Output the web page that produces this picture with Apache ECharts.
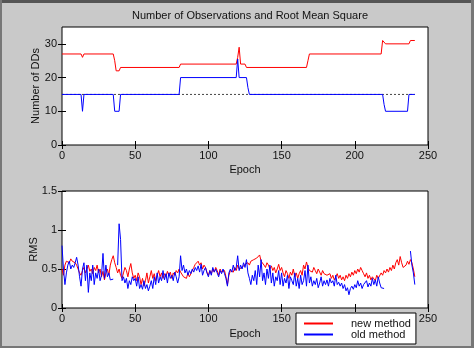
<!DOCTYPE html>
<html><head><meta charset="utf-8">
<script src="https://cdn.jsdelivr.net/npm/echarts@6/dist/echarts.min.js"></script>
<style>html,body{margin:0;padding:0;background:#c9c9c9}#c{width:474px;height:348px}</style>
</head><body><div id="c"></div><script>
// ---- Top panel: number of DDs (polyline vertices: epoch, count) ----
var newDDEpoch = [0,13,14,15,35,36,37,39,40,80,81,119,120,121,122,125,126,167,168,169,218,219,220,221,237,238,241];
var newDD      = [27,27,26,27,27,25,22,22,23,23,24,24,26,29,24,24,23,23,25,27,27,31,30.5,30,30,31,31];
var oldDDEpoch = [0,13,14,15,35,36,39,40,80,81,119,120,121,126,127,128,219,220,221,236,237,241];
var oldDD      = [15,15,10,15,15,10,10,15,15,20,20,25.5,20,20,17,15,15,12,10,10,15,15];
var refEpoch   = [0,241];
var refDD      = [15,15];

// ---- Bottom panel: RMS per epoch (index = epoch) ----
var newRMS = [
0.50,0.42,0.55,0.60,0.62,0.58,0.63,0.60,0.62,0.58,
0.55,0.50,0.45,0.42,0.48,0.52,0.45,0.50,0.55,0.47,
0.50,0.44,0.52,0.48,0.55,0.45,0.50,0.40,0.47,0.36,
0.45,0.50,0.42,0.55,0.62,0.67,0.58,0.52,0.45,0.50,
0.42,0.38,0.45,0.52,0.48,0.40,0.50,0.57,0.45,0.38,
0.42,0.35,0.45,0.40,0.30,0.38,0.28,0.35,0.45,0.32,
0.40,0.48,0.38,0.44,0.35,0.42,0.48,0.40,0.45,0.38,
0.44,0.40,0.47,0.42,0.46,0.38,0.45,0.42,0.48,0.45,
0.50,0.46,0.44,0.40,0.42,0.38,0.45,0.40,0.44,0.48,
0.52,0.56,0.58,0.60,0.55,0.58,0.50,0.55,0.52,0.46,
0.42,0.48,0.44,0.50,0.46,0.52,0.48,0.42,0.50,0.46,
0.44,0.48,0.40,0.30,0.42,0.48,0.50,0.46,0.52,0.48,
0.55,0.50,0.48,0.52,0.50,0.56,0.54,0.58,0.55,0.60,
0.58,0.62,0.60,0.64,0.62,0.68,0.60,0.58,0.55,0.52,
0.58,0.55,0.50,0.54,0.48,0.52,0.45,0.50,0.56,0.48,
0.52,0.45,0.40,0.48,0.44,0.38,0.46,0.42,0.50,0.40,
0.45,0.38,0.44,0.48,0.42,0.55,0.50,0.59,0.52,0.48,
0.50,0.46,0.52,0.48,0.44,0.50,0.46,0.42,0.48,0.44,
0.46,0.42,0.40,0.44,0.38,0.42,0.36,0.40,0.44,0.38,
0.42,0.36,0.40,0.35,0.42,0.38,0.44,0.40,0.46,0.42,
0.48,0.44,0.50,0.46,0.52,0.48,0.44,0.40,0.45,0.38,
0.42,0.36,0.40,0.38,0.35,0.42,0.38,0.40,0.45,0.42,
0.48,0.45,0.50,0.46,0.52,0.48,0.55,0.50,0.58,0.62,
0.55,0.66,0.58,0.52,0.50,0.55,0.60,0.56,0.62,0.58,
0.50,0.40];
var oldRMS = [
0.80,0.50,0.30,0.45,0.55,0.60,0.50,0.55,0.52,0.58,
0.65,0.55,0.40,0.28,0.50,0.58,0.35,0.55,0.20,0.45,
0.35,0.55,0.30,0.45,0.38,0.50,0.35,0.42,0.70,0.38,
0.55,0.40,0.45,0.36,0.38,0.37,null,null,0.55,1.08,
0.88,0.35,0.40,0.32,0.38,0.25,0.35,0.30,0.40,0.35,
0.38,0.28,0.40,0.25,0.30,0.24,0.35,0.25,0.30,0.22,
0.28,0.35,0.25,0.40,0.30,0.45,0.32,0.40,0.35,0.48,
0.36,0.44,0.32,0.45,0.38,0.42,0.35,0.46,0.40,0.32,
0.40,0.67,0.48,0.55,0.45,0.50,0.42,0.48,0.44,0.50,
0.46,0.52,0.48,0.54,0.46,0.56,0.42,0.48,0.52,0.45,
0.40,0.48,0.42,0.52,0.46,0.50,0.45,0.40,0.48,0.44,
0.50,0.44,0.38,0.28,0.45,0.50,0.46,0.55,0.48,0.52,
0.67,0.48,0.55,0.50,0.58,0.52,0.62,0.45,0.38,0.30,
0.42,0.35,0.48,0.30,0.55,0.40,0.62,0.35,0.45,0.30,
0.50,0.38,0.55,0.32,0.45,0.28,0.40,0.35,0.48,0.30,
0.45,0.28,0.38,0.32,0.42,0.25,0.40,0.35,0.30,0.45,
0.28,0.38,0.25,0.42,0.30,0.35,0.48,0.28,0.55,0.32,
0.40,0.28,0.35,0.30,0.38,0.26,0.32,0.40,0.28,0.35,
0.30,0.36,0.28,0.38,0.32,0.35,0.28,0.42,0.30,0.33,
0.28,0.32,0.25,0.30,0.22,0.26,0.17,0.25,0.28,0.24,
0.30,0.26,0.35,0.28,0.32,0.25,0.30,0.28,0.35,0.27,
0.32,0.28,0.38,0.30,0.36,0.28,0.40,0.32,0.26,0.25,
0.25,null,null,null,null,null,null,null,null,null,
null,null,null,null,null,null,null,null,0.73,0.55,
0.45,0.30];

var xTicks = [0,50,100,150,200,250];
var ddTicks = [0,10,20,30];
var rmsTicks = [0,0.5,1,1.5];

var FONT = 'Liberation Sans, Arial, Helvetica, sans-serif';
function pairs(xs, ys){ return xs.map(function(x,i){ return [x, ys[i]]; }); }
function idx(ys){ return ys.map(function(y,i){ return [i, y]; }); }

function xAx(grid, pos, main, name, gap){
  return {type:'value', gridIndex:grid, position:pos, min:0, max:250, interval:50,
    axisLine:{show:false}, splitLine:{show:false},
    axisTick:{show:true, inside:true, length:4, customValues:xTicks, lineStyle:{color:'#000'}},
    axisLabel:{show:main, customValues:xTicks, color:'#111', fontSize:11, fontFamily:FONT, margin:5},
    name: main ? name : '', nameLocation:'middle', nameGap:gap, nameMoveOverlap:false,
    nameTextStyle:{color:'#111', fontSize:11, fontFamily:FONT}};
}
function yAx(grid, pos, main, max, ticks, name, gap){
  return {type:'value', gridIndex:grid, position:pos, min:0, max:max,
    axisLine:{show:false}, splitLine:{show:false},
    axisTick:{show:true, inside:true, length:4, customValues:ticks, lineStyle:{color:'#000'}},
    axisLabel:{show:main, customValues:ticks, color:'#111', fontSize:11, fontFamily:FONT, margin:5},
    name: main ? name : '', nameLocation:'middle', nameGap:gap, nameMoveOverlap:false,
    nameTextStyle:{color:'#111', fontSize:11, fontFamily:FONT}};
}
function line(name, xi, yi, data, color, extra){
  var s = {name:name, type:'line', xAxisIndex:xi, yAxisIndex:yi, data:data,
    symbol:'none', showSymbol:false, connectNulls:false, animation:false,
    lineStyle:{color:color, width:1}, itemStyle:{color:color}};
  if (extra) for (var k in extra) s[k] = extra[k];
  return s;
}

var chart = echarts.init(document.getElementById('c'), null, {renderer:'canvas'});
chart.setOption({
  backgroundColor:'#c9c9c9',
  animation:false,
  textStyle:{fontFamily:FONT},
  title:{text:'Number of Observations and Root Mean Square', left:245, textAlign:'center', top:5,
    textStyle:{fontSize:11, fontWeight:'normal', color:'#111', fontFamily:FONT}},
  grid:[
    {left:62, top:27, width:366, height:118, show:true, backgroundColor:'#fff', borderColor:'#000', borderWidth:1},
    {left:62, top:191, width:366, height:117, show:true, backgroundColor:'#fff', borderColor:'#000', borderWidth:1}
  ],
  xAxis:[
    xAx(0,'bottom',true,'Epoch',19), xAx(0,'top',false,'',0),
    xAx(1,'bottom',true,'Epoch',20), xAx(1,'top',false,'',0)
  ],
  yAxis:[
    yAx(0,'left',true,35,ddTicks,'Number of DDs',21), yAx(0,'right',false,35,ddTicks,'',0),
    yAx(1,'left',true,1.5,rmsTicks,'RMS',23), yAx(1,'right',false,1.5,rmsTicks,'',0)
  ],
  legend:{data:['new method','old method'], orient:'vertical', left:296, top:313,
    backgroundColor:'#fff', borderColor:'#000', borderWidth:1, borderRadius:0,
    padding:[5,5,4,7], itemGap:0, itemWidth:29, itemHeight:10,
    itemStyle:{opacity:0},
    textStyle:{fontSize:11, color:'#111', fontFamily:FONT, padding:[0,0,0,13]}},
  series:[
    line('ref', 0, 0, pairs(refEpoch, refDD), '#333', {lineStyle:{color:'#444', width:1, type:[2,2]}}),
    line('new DD', 0, 0, pairs(newDDEpoch, newDD), '#ff0000'),
    line('old DD', 0, 0, pairs(oldDDEpoch, oldDD), '#0000ff'),
    line('new method', 2, 2, idx(newRMS), '#ff0000'),
    line('old method', 2, 2, idx(oldRMS), '#0000ff')
  ],
  graphic:[
    {type:'rect', shape:{x:0, y:0, width:474, height:3}, style:{fill:'#555'}, silent:true},
    {type:'rect', shape:{x:0, y:0, width:2, height:348}, style:{fill:'#777'}, silent:true},
    {type:'rect', shape:{x:471, y:0, width:3, height:348}, style:{fill:'#777'}, silent:true},
    {type:'rect', shape:{x:0, y:346, width:474, height:2}, style:{fill:'#777'}, silent:true}
  ]
});
</script></body></html>
